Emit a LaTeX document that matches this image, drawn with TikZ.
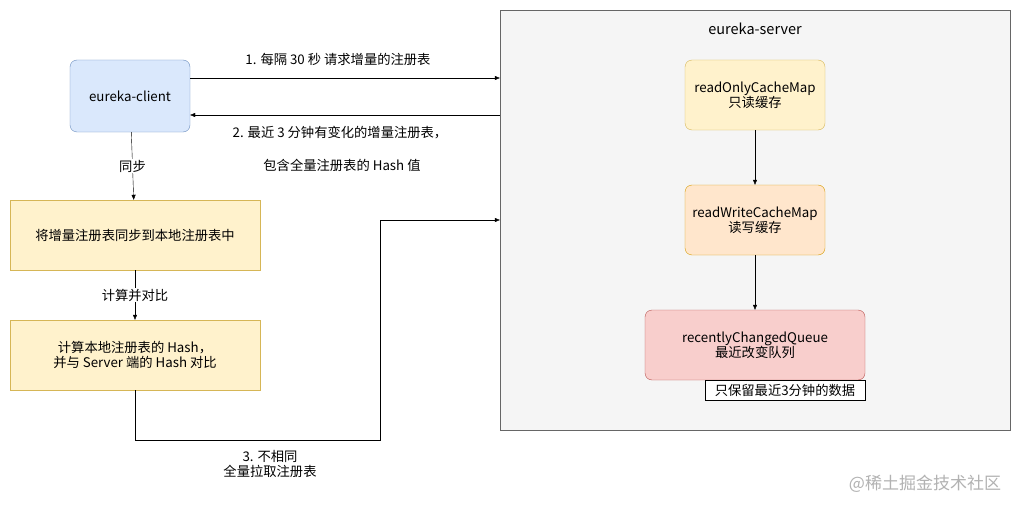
\documentclass[tikz,border=0pt]{standalone}
\usepackage{fontspec}
\setmainfont{Noto Sans CJK SC}
\usetikzlibrary{arrows.meta}
\definecolor{srvf}{HTML}{F5F5F5}\definecolor{srvd}{HTML}{666666}
\definecolor{bluef}{HTML}{DAE8FC}\definecolor{blued}{HTML}{6C8EBF}
\definecolor{yelf}{HTML}{FFF2CC}\definecolor{yeld}{HTML}{D6B656}
\definecolor{orf}{HTML}{FFE6CC}\definecolor{ord}{HTML}{D79B00}
\definecolor{redf}{HTML}{F8CECC}\definecolor{redd}{HTML}{B85450}
\begin{document}
\begin{tikzpicture}[x=1pt,y=-1pt,font=\fontsize{13.3}{15}\selectfont,
 box/.style={draw,align=center,inner sep=0pt},
 arr/.style={-{Triangle[length=5pt,width=4pt]},black}]
\useasboundingbox (0,0) rectangle (1021,511);
\fill[white] (0,0) rectangle (1021,511);
\node[box,fill=srvf,draw=srvd,minimum width=510pt,minimum height=420pt] (srv) at (755,220) {};
\node[font=\fontsize{14.5}{16}\selectfont] (srvt) at (755,29) {eureka-server};
\node[box,rounded corners=7pt,fill=bluef,draw=blued,minimum width=120pt,minimum height=72pt] (cl) at (130,96) {eureka-client};
\node[box,rounded corners=7pt,fill=yelf,draw=yeld,minimum width=140pt,minimum height=70pt] (ro) at (755,95) {readOnlyCacheMap\\只读缓存};
\node[box,rounded corners=7pt,fill=orf,draw=ord,minimum width=140pt,minimum height=70pt] (rw) at (755,220) {readWriteCacheMap\\读写缓存};
\node[box,rounded corners=7pt,fill=redf,draw=redd,minimum width=220pt,minimum height=70pt] (rq) at (755,345) {recentlyChangedQueue\\最近改变队列};
\node[box,fill=white,draw=black,minimum width=160pt,minimum height=20pt] (nt) at (785,390) {只保留最近3分钟的数据};
\node[box,fill=yelf,draw=yeld,minimum width=250pt,minimum height=70pt] (b1) at (135,235) {将增量注册表同步到本地注册表中};
\node[box,fill=yelf,draw=yeld,minimum width=250pt,minimum height=70pt] (b2) at (135,355) {计算本地注册表的 Hash，\\并与 Server 端的 Hash 对比};
\coordinate (c1) at (135,440); \coordinate (c2) at (380,440); \coordinate (c3) at (380,220);
\draw[arr] (cl.east |- 0,78) -- (srv.west |- 0,78);
\node (l1) at (338,59) {1. 每隔 30 秒 请求增量的注册表};
\draw[arr] (srv.west |- 0,115) -- (cl.east |- 0,115);
\node (l2) at (340,133) {2. 最近 3 分钟有变化的增量注册表，};
\node (l3) at (342,165) {包含全量注册表的 Hash 值};
\draw[arr] (cl) -- (b1) node[midway,fill=white,inner sep=1pt] (l4) {同步};
\draw[arr] (b1) -- (b2) node[midway,fill=white,inner sep=1pt] (l5) {计算并对比};
\draw[arr] (b2.south) -- (c1) -- (c2) -- (c3) -- (srv.west |- c3);
\node[align=center,font=\fontsize{13.3}{15}\selectfont] (l6) at (270,464) {3. 不相同\\全量拉取注册表};
\draw[arr] (ro) -- (rw);
\draw[arr] (rw) -- (rq);
\node[text=black!30,font=\fontsize{17}{19}\selectfont] (wm) at (925,484) {@稀土掘金技术社区};
\end{tikzpicture}
\end{document}
